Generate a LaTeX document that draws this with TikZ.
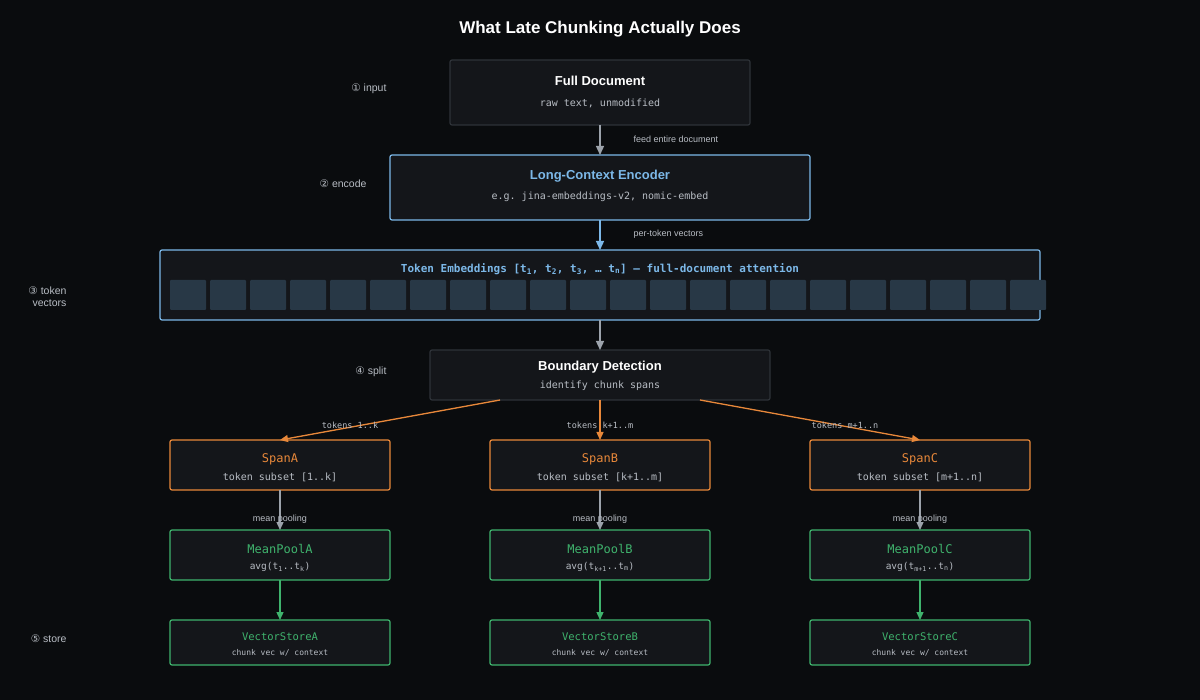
\documentclass[tikz,border=0pt]{standalone}
\usepackage{fontspec}
\setmainfont{Liberation Sans}
\setmonofont{DejaVu Sans Mono}
\newfontfamily\circfont{DejaVu Sans}
\usetikzlibrary{arrows.meta}
\definecolor{bg}{HTML}{0A0C0E}
\definecolor{boxfill}{HTML}{14161A}
\definecolor{boxline}{HTML}{2E3238}
\definecolor{blu}{HTML}{7CB8E8}
\definecolor{orn}{HTML}{E8883A}
\definecolor{grn}{HTML}{3FB36D}
\definecolor{gry}{HTML}{9CA3AB}
\definecolor{txt}{HTML}{B8BDC4}
\definecolor{cell}{HTML}{283846}
\begin{document}
\begin{tikzpicture}[x=1pt,y=-1pt,
 box/.style={draw=#1,fill=boxfill,rounded corners=2pt,line width=1.2pt,minimum height=0pt},
 ttl/.style={font=\bfseries\fontsize{13}{15}\selectfont,text=white},
 sub/.style={font=\ttfamily\fontsize{10}{12}\selectfont,text=txt},
 lab/.style={font=\fontsize{10.5}{12}\selectfont,text=txt,align=right},
 elab/.style={font=\fontsize{9}{11}\selectfont,text=txt},
 tlab/.style={font=\ttfamily\fontsize{8.5}{10}\selectfont,text=txt},
 arr/.style={-{Triangle[length=9pt,width=8pt]},line width=1.3pt,draw=#1},
 arr2/.style={-{Triangle[length=8pt,width=7pt]},line width=1.3pt,draw=#1}]
\fill[bg] (0,0) rectangle (1200,700);
\node[font=\bfseries\fontsize{17}{20}\selectfont,text=white] (title) at (600,29) {What Late Chunking Actually Does};
% nodes
\draw[box=boxline] (450,60) rectangle (750,125);
\node[ttl] (doc) at (600,81) {Full Document};
\node[sub] (docs) at (600,103) {raw text, unmodified};
\coordinate (docB) at (600,125);
\draw[box=blu] (390,155) rectangle (810,220);
\coordinate (encT) at (600,155); \coordinate (encB) at (600,220);
\node[ttl,text=blu] (enc) at (600,176) {Long-Context Encoder};
\node[sub] (encs) at (600,197) {e.g. jina-embeddings-v2, nomic-embed};
\draw[box=blu] (160,250) rectangle (1040,320);
\coordinate (tokT) at (600,250); \coordinate (tokB) at (600,320);
\node[font=\ttfamily\bfseries\fontsize{11}{13}\selectfont,text=blu] (tok) at (600,269) {Token Embeddings [t\textsubscript{1}, t\textsubscript{2}, t\textsubscript{3}, … t\textsubscript{n}] — full-document attention};
\foreach \i in {0,...,21} \fill[cell,rounded corners=1pt] (170+40*\i,280) rectangle ++(36,30);
\draw[box=boxline] (430,350) rectangle (770,400);
\coordinate (bdT) at (600,350);
\node[ttl] (bd) at (600,367) {Boundary Detection};
\node[sub] (bds) at (600,386) {identify chunk spans};
\coordinate (bdA) at (500,400); \coordinate (bdB) at (600,400); \coordinate (bdC) at (700,400);
\foreach \n/\x/\s in {A/280/1..k,B/600/k+1..m,C/920/m+1..n}{
 \draw[box=orn] (\x-110,440) rectangle (\x+110,490);
 \coordinate (sp\n T) at (\x,440); \coordinate (sp\n B) at (\x,490);
 \node[font=\ttfamily\fontsize{12}{14}\selectfont,text=orn] (span\n) at (\x,459) {Span\n};
 \node[sub] (spans\n) at (\x,477) {token subset [\s]};
 \draw[box=grn] (\x-110,530) rectangle (\x+110,580);
 \coordinate (mp\n T) at (\x,530); \coordinate (mp\n B) at (\x,580);
 \node[font=\ttfamily\fontsize{12}{14}\selectfont,text=grn] (mp\n) at (\x,549) {MeanPool\n};
 \draw[box=grn] (\x-110,620) rectangle (\x+110,665);
 \coordinate (vs\n T) at (\x,620);
 \node[font=\ttfamily\fontsize{10.5}{12}\selectfont,text=grn] (vs\n) at (\x,637) {VectorStore\n};
 \node[font=\ttfamily\fontsize{8}{10}\selectfont,text=txt] (vss\n) at (\x,653) {chunk vec w/ context};
 \draw[arr2=gry] (sp\n B) -- (mp\n T);
 \node[elab] (ml\n) at (\x,519) {mean pooling};
 \draw[arr2=grn] (mp\n B) -- (vs\n T);
}
\node[sub,font=\ttfamily\fontsize{9.5}{11}\selectfont] (mpsA) at (280,567) {avg(t\textsubscript{1}..t\textsubscript{k})};
\node[sub,font=\ttfamily\fontsize{9.5}{11}\selectfont] (mpsB) at (600,567) {avg(t\textsubscript{k+1}..t\textsubscript{m})};
\node[sub,font=\ttfamily\fontsize{9.5}{11}\selectfont] (mpsC) at (920,567) {avg(t\textsubscript{m+1}..t\textsubscript{n})};
% arrows
\draw[arr=gry] (docB) -- (encT);
\node[elab,anchor=west] (l1) at (630,139) {feed entire document};
\draw[arr=blu] (encB) -- (tokT);
\node[elab,anchor=west] (l2) at (630,234) {per-token vectors};
\draw[arr=gry] (tokB) -- (bdT);
\draw[arr2=orn] (bdA) -- (spAT);
\draw[arr2=orn] (bdB) -- (spBT);
\draw[arr2=orn] (bdC) -- (spCT);
\node[tlab] (tA) at (350,425) {tokens 1..k};
\node[tlab] (tB) at (600,425) {tokens k+1..m};
\node[tlab] (tC) at (845,425) {tokens m+1..n};
% step labels
\node[lab,anchor=east] (s1) at (390,89) {{\circfont ①} input};
\node[lab,anchor=east] (s2) at (370,184) {{\circfont ②} encode};
\node[lab,anchor=east] (s3) at (70,297) {{\circfont ③} token\\vectors};
\node[lab,anchor=east] (s4) at (390,372) {{\circfont ④} split};
\node[lab,anchor=east] (s5) at (70,639) {{\circfont ⑤} store};
\end{tikzpicture}
\end{document}
